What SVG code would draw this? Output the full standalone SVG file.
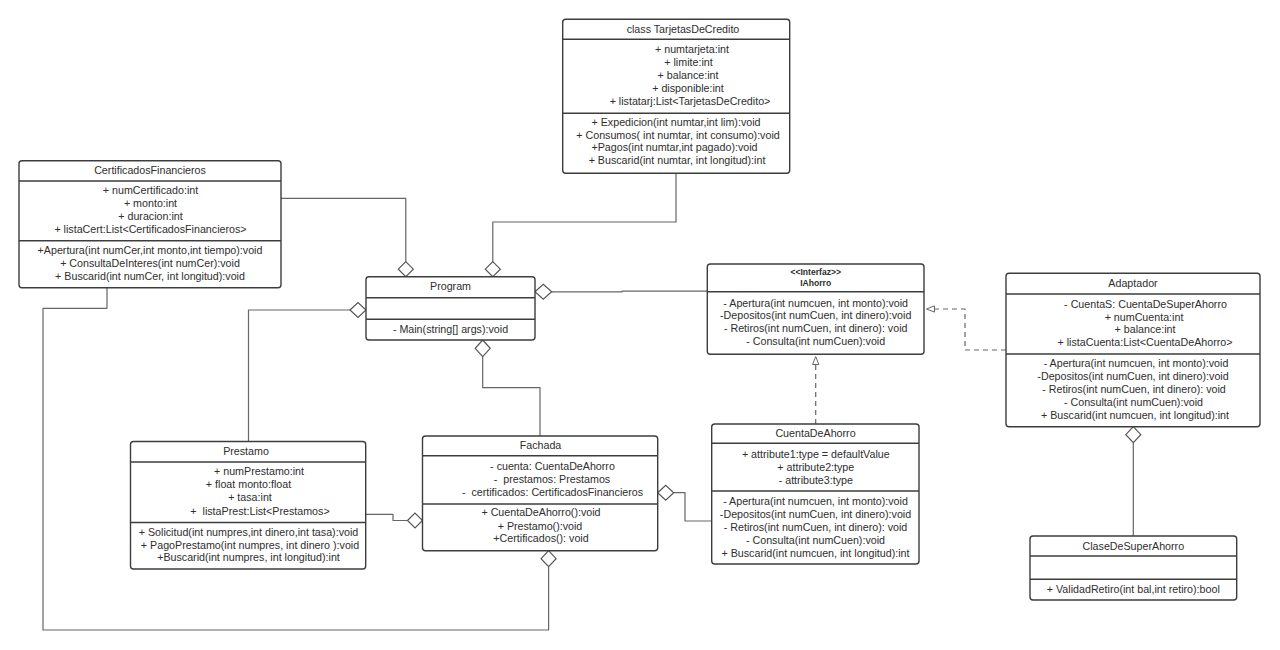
<svg xmlns="http://www.w3.org/2000/svg" width="1280" height="650" viewBox="0 0 1280 650">
<style>
.bg{fill:#ffffff}
.box{fill:#ffffff;stroke:#3d3d3d;stroke-width:1.4}
.dv{stroke:#3d3d3d;stroke-width:1.4}
text{font-family:"Liberation Sans",Arial,sans-serif;font-size:10.7px;fill:#2e2e2e;text-anchor:middle}
.st{font-size:8.6px;font-weight:bold}
.conn{fill:none;stroke:#666666;stroke-width:1.2;stroke-linejoin:round}
.dash{stroke-dasharray:5 4}
.dia{fill:#ffffff;stroke:#555555;stroke-width:1.2}
.tri{fill:#ffffff;stroke:#666666;stroke-width:1}
</style>
<rect class="bg" x="0" y="0" width="1280" height="650"/>

<g id="connectors">
  <path class="conn" d="M281,198.3 H405.8 V261.7"/>
  <polygon class="dia" points="405.8,261.7 413.3,269.2 405.8,276.7 398.3,269.2"/>
  <path class="conn" d="M676,173.3 V222 H492.8 V261.7"/>
  <polygon class="dia" points="492.8,261.7 500.3,269.2 492.8,276.7 485.3,269.2"/>
  <path class="conn" d="M551.7,291.8 H622 V291.2 H707.3"/>
  <polygon class="dia" points="535,291.8 543.3,284.3 551.7,291.8 543.3,299.3"/>
  <path class="conn" d="M350,310 H248.5 V441.5"/>
  <polygon class="dia" points="350,310 358,302.5 366,310 358,317.5"/>
  <path class="conn" d="M482.7,356.7 V387.7 H540 V436"/>
  <polygon class="dia" points="482.7,340 490.2,348.3 482.7,356.7 475.2,348.3"/>
  <path class="conn" d="M365.7,514.3 H393 V520.5 H407.5"/>
  <polygon class="dia" points="407.5,520.5 415,513 422.5,520.5 415,528"/>
  <path class="conn" d="M673.7,492.7 H685 V521 H711.7"/>
  <polygon class="dia" points="657.7,492.7 665.7,485.2 673.7,492.7 665.7,500.2"/>
  <path class="conn" d="M107,287.7 V308.3 H43 V630 H548.6 V566.7"/>
  <polygon class="dia" points="548.6,550.7 556.1,558.7 548.6,566.7 541.1,558.7"/>
  <path class="conn" d="M1133.3,442.7 V536"/>
  <polygon class="dia" points="1133.3,426.7 1140.8,434.7 1133.3,442.7 1125.8,434.7"/>
  <path class="conn dash" d="M815.7,424 V364.5"/>
  <polygon class="tri" points="815.7,356.5 818.8,364.5 812.6,364.5"/>
  <path class="conn dash" d="M1006,350 H965 V309 H934.5"/>
  <polygon class="tri" points="926.5,309 934.5,305.9 934.5,312.1"/>
</g>

<g id="CertificadosFinancieros">
  <rect class="box" x="19" y="160.7" width="262" height="127" rx="3"/>
  <line class="dv" x1="19" y1="181" x2="281" y2="181"/>
  <line class="dv" x1="19" y1="240.7" x2="281" y2="240.7"/>
  <text x="150" y="173.8">CertificadosFinancieros</text>
  <text x="150.5" y="193.8">+ numCertificado:int</text>
  <text x="150.5" y="206.8">+ monto:int</text>
  <text x="150.5" y="219.8">+ duracion:int</text>
  <text x="150.5" y="232.8">+ listaCert:List&lt;CertificadosFinancieros&gt;</text>
  <text x="150" y="253.8">+Apertura(int numCer,int monto,int tiempo):void</text>
  <text x="150" y="266.8">+ ConsultaDeInteres(int numCer):void</text>
  <text x="150" y="279.8">+ Buscarid(int numCer, int longitud):void</text>
</g>

<g id="TarjetasDeCredito">
  <rect class="box" x="562.7" y="19.3" width="227" height="154" rx="3"/>
  <line class="dv" x1="562.7" y1="39.3" x2="789.7" y2="39.3"/>
  <line class="dv" x1="562.7" y1="113.3" x2="789.7" y2="113.3"/>
  <text x="683" y="32.8">class TarjetasDeCredito</text>
  <text x="692" y="53.3">+ numtarjeta:int</text>
  <text x="688.5" y="66.3">+ limite:int</text>
  <text x="688" y="79.1">+ balance:int</text>
  <text x="688" y="91.9">+ disponible:int</text>
  <text x="690" y="104.8">+ listatarj:List&lt;TarjetasDeCredito&gt;</text>
  <text x="676" y="126.1">+ Expedicion(int numtar,int lim):void</text>
  <text x="678" y="138.8">+ Consumos( int numtar, int consumo):void</text>
  <text x="674.5" y="151.1">+Pagos(int numtar,int pagado):void</text>
  <text x="677" y="163.8">+ Buscarid(int numtar, int longitud):int</text>
</g>

<g id="Program">
  <rect class="box" x="366" y="276.7" width="169" height="63.3" rx="3"/>
  <line class="dv" x1="366" y1="297.7" x2="535" y2="297.7"/>
  <line class="dv" x1="366" y1="319.3" x2="535" y2="319.3"/>
  <text x="450.5" y="289.5">Program</text>
  <text x="450.5" y="332.8">- Main(string[] args):void</text>
</g>

<g id="IAhorro">
  <rect class="box" x="707.3" y="264" width="216.7" height="90.3" rx="3"/>
  <line class="dv" x1="707.3" y1="291.7" x2="924" y2="291.7"/>
  <text class="st" x="815.7" y="274.8">&lt;&lt;Interfaz&gt;&gt;</text>
  <text class="st" x="815.7" y="285.8">IAhorro</text>
  <text x="815.7" y="306.5">- Apertura(int numcuen, int monto):void</text>
  <text x="815.7" y="319.1">-Depositos(int numCuen, int dinero):void</text>
  <text x="815.7" y="331.8">- Retiros(int numCuen, int dinero): void</text>
  <text x="815.7" y="344.8">- Consulta(int numCuen):void</text>
</g>

<g id="Adaptador">
  <rect class="box" x="1006" y="273.3" width="254" height="153.4" rx="3"/>
  <line class="dv" x1="1006" y1="294" x2="1260" y2="294"/>
  <line class="dv" x1="1006" y1="354" x2="1260" y2="354"/>
  <text x="1133" y="287.1">Adaptador</text>
  <text x="1145.5" y="307.8">- CuentaS: CuentaDeSuperAhorro</text>
  <text x="1144" y="320.6">+ numCuenta:int</text>
  <text x="1145" y="333.4">+ balance:int</text>
  <text x="1145" y="346.2">+ listaCuenta:List&lt;CuentaDeAhorro&gt;</text>
  <text x="1136" y="367.1">- Apertura(int numcuen, int monto):void</text>
  <text x="1133" y="380.3">-Depositos(int numCuen, int dinero):void</text>
  <text x="1134" y="393">- Retiros(int numCuen, int dinero): void</text>
  <text x="1133.5" y="405.8">- Consulta(int numCuen):void</text>
  <text x="1135" y="419">+ Buscarid(int numcuen, int longitud):int</text>
</g>

<g id="ClaseDeSuperAhorro">
  <rect class="box" x="1030" y="536" width="206.7" height="64" rx="3"/>
  <line class="dv" x1="1030" y1="556" x2="1236.7" y2="556"/>
  <line class="dv" x1="1030" y1="579.3" x2="1236.7" y2="579.3"/>
  <text x="1133.3" y="549.8">ClaseDeSuperAhorro</text>
  <text x="1133.3" y="593.1">+ ValidadRetiro(int bal,int retiro):bool</text>
</g>

<g id="Prestamo">
  <rect class="box" x="130.5" y="441.5" width="235.2" height="127.5" rx="3"/>
  <line class="dv" x1="130.5" y1="462" x2="365.7" y2="462"/>
  <line class="dv" x1="130.5" y1="522.5" x2="365.7" y2="522.5"/>
  <text x="246" y="454.5">Prestamo</text>
  <text x="259" y="475.1">+ numPrestamo:int</text>
  <text x="248.5" y="488.1">+ float monto:float</text>
  <text x="250" y="501.3">+ tasa:int</text>
  <text x="260" y="514.5" xml:space="preserve">+  listaPrest:List&lt;Prestamos&gt;</text>
  <text x="248.5" y="535.8">+ Solicitud(int numpres,int dinero,int tasa):void</text>
  <text x="250" y="548.5">+ PagoPrestamo(int numpres, int dinero ):void</text>
  <text x="248.5" y="561.1">+Buscarid(int numpres, int longitud):int</text>
</g>

<g id="Fachada">
  <rect class="box" x="422.5" y="436" width="235.2" height="114.7" rx="3"/>
  <line class="dv" x1="422.5" y1="455.8" x2="657.7" y2="455.8"/>
  <line class="dv" x1="422.5" y1="504" x2="657.7" y2="504"/>
  <text x="540.5" y="449.1">Fachada</text>
  <text x="552.5" y="469.8">- cuenta: CuentaDeAhorro</text>
  <text x="552" y="483.1" xml:space="preserve">-  prestamos: Prestamos</text>
  <text x="552.5" y="496.1" xml:space="preserve">-  certificados: CertificadosFinancieros</text>
  <text x="541" y="516.3">+ CuentaDeAhorro():void</text>
  <text x="540" y="529.6">+ Prestamo():void</text>
  <text x="541" y="542.1">+Certificados(): void</text>
</g>

<g id="CuentaDeAhorro">
  <rect class="box" x="711.7" y="424" width="207.3" height="140" rx="3"/>
  <line class="dv" x1="711.7" y1="443.3" x2="919" y2="443.3"/>
  <line class="dv" x1="711.7" y1="491" x2="919" y2="491"/>
  <text x="815.5" y="437.1">CuentaDeAhorro</text>
  <text x="815.8" y="457.8">+ attribute1:type = defaultValue</text>
  <text x="815.8" y="470.8">+ attribute2:type</text>
  <text x="815.8" y="483.8">- attribute3:type</text>
  <text x="815.5" y="504.8">- Apertura(int numcuen, int monto):void</text>
  <text x="815.5" y="517.8">-Depositos(int numCuen, int dinero):void</text>
  <text x="815.5" y="530.8">- Retiros(int numCuen, int dinero): void</text>
  <text x="815.5" y="543.8">- Consulta(int numCuen):void</text>
  <text x="815.5" y="556.5">+ Buscarid(int numcuen, int longitud):int</text>
</g>
</svg>
